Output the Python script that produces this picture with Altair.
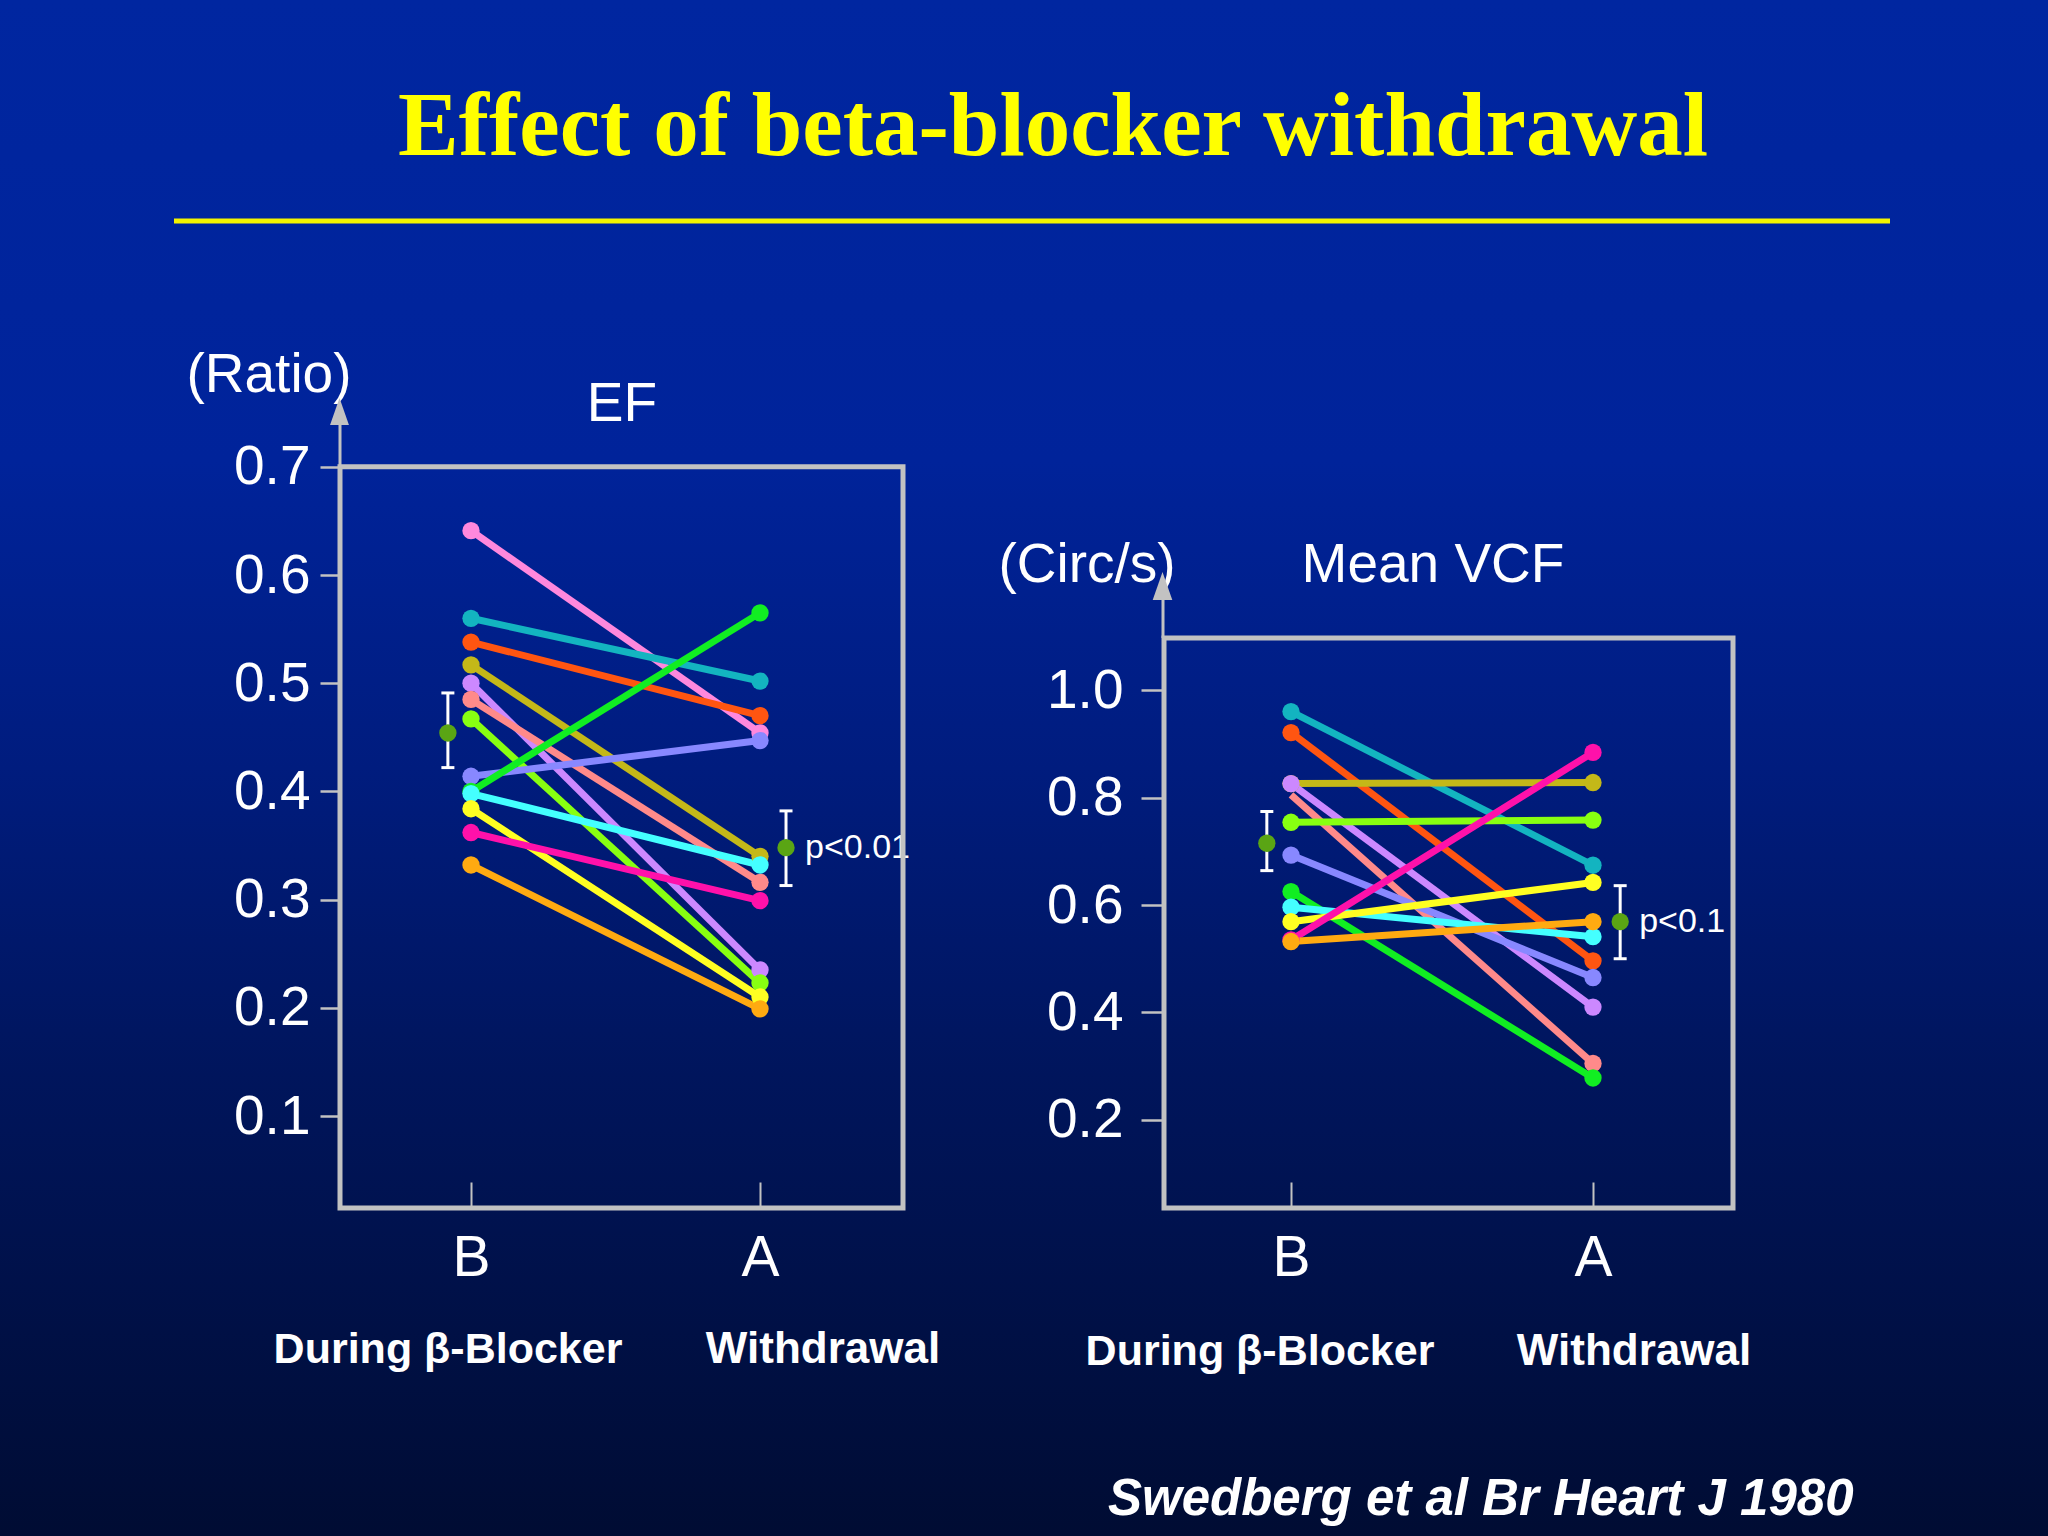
import altair as alt
import pandas as pd

W, H = 2048, 1536

# ---------------- data ----------------
phase_values = [1, 2]
phase_labels = ["B", "A"]

ef_subjects = ["pink", "teal", "orangered", "olive", "violet", "salmon", "lime",
               "periwinkle", "green", "cyan", "yellow", "magenta", "orange"]
ef_before = [0.641, 0.560, 0.538, 0.517, 0.500, 0.485, 0.467, 0.414, 0.400, 0.398, 0.384, 0.362, 0.332]
ef_after = [0.454, 0.502, 0.470, 0.340, 0.235, 0.316, 0.223, 0.447, 0.565, 0.332, 0.210, 0.299, 0.199]
ef_mean = [0.454, 0.348]
ef_lo = [0.422, 0.313]
ef_hi = [0.491, 0.382]
ef_ticks = [0.1, 0.2, 0.3, 0.4, 0.5, 0.6, 0.7]

vcf_subjects = ["teal", "orangered", "olive", "violet", "salmon", "lime",
                "periwinkle", "green", "cyan", "yellow", "magenta", "orange"]
vcf_before = [0.960, 0.921, 0.826, 0.826, 0.805, 0.754, 0.693, 0.625, 0.596, 0.569, 0.535, 0.532]
vcf_after = [0.674, 0.496, 0.828, 0.410, 0.305, 0.758, 0.465, 0.278, 0.541, 0.642, 0.884, 0.569]
vcf_no_dot_before = ["salmon"]
vcf_mean = [0.715, 0.569]
vcf_lo = [0.664, 0.500]
vcf_hi = [0.774, 0.636]
vcf_ticks = [0.2, 0.4, 0.6, 0.8, 1.0]

mean_x = [0.92, 2.09]

subject_names = ["pink", "teal", "orangered", "olive", "violet", "salmon", "lime",
                 "periwinkle", "green", "cyan", "yellow", "magenta", "orange"]
subject_colors = ["#ff88dd", "#13b4c0", "#ff5511", "#c4b818", "#cc88ff", "#ff8a8a", "#88ff11",
                  "#8888ff", "#11ee22", "#44ffff", "#ffff22", "#ff11aa", "#ffaa11"]

GRAY = "#c2c2c2"
MEAN_COLOR = "#5aa514"
FONT = "Liberation Sans"
TICK_TOP = 1182
DOT = 300


def long_df(subjects, before, after):
    rows = []
    for s, b, a in zip(subjects, before, after):
        rows.append({"subject": s, "phase": phase_values[0], "value": b})
        rows.append({"subject": s, "phase": phase_values[1], "value": a})
    return pd.DataFrame(rows)


color_enc = alt.Color("subject:N",
                      scale=alt.Scale(domain=subject_names, range=subject_colors),
                      legend=None)

one_row = pd.DataFrame({"k": [0]})


def panel(df, dots_df, means, lo, hi, p_text, x_dom, x_rng, y_dom, y_rng,
          y_ticks, y_axis_x, y_tick_size, y_label_pad):
    xs = alt.Scale(domain=x_dom, range=x_rng, nice=False, zero=False)
    ys = alt.Scale(domain=y_dom, range=y_rng, nice=False, zero=False)
    label_expr = (f"datum.value == {phase_values[0]} ? '{phase_labels[0]}' : "
                  f"'{phase_labels[1]}'")
    x_axis = alt.Axis(orient="bottom", offset=TICK_TOP - H, values=phase_values,
                      labelExpr=label_expr, tickSize=26, tickColor=GRAY, tickWidth=2,
                      domain=False, grid=False, labelFont=FONT, labelFontSize=57,
                      labelColor="white", labelPadding=22, title=None,
                      labelFlush=False, labelOverlap=False, zindex=2)
    y_axis = alt.Axis(orient="left", offset=-y_axis_x, values=y_ticks, format=".1f",
                      tickSize=y_tick_size, tickColor=GRAY, tickWidth=2.5,
                      domain=False, grid=False, labelFont=FONT, labelFontSize=55,
                      labelColor="white", labelPadding=y_label_pad, title=None,
                      labelFlush=False, labelOverlap=False, labelBaseline="middle",
                      zindex=2)

    mdf = pd.DataFrame({"x": mean_x, "mean": means, "lo": lo, "hi": hi})

    def X(f):
        return alt.X(f, type="quantitative", scale=xs, axis=x_axis)

    def Y(f):
        return alt.Y(f, type="quantitative", scale=ys, axis=y_axis)

    lines = alt.Chart(df).mark_line(strokeWidth=7).encode(
        x=X("phase"), y=Y("value"), color=color_enc, detail="subject:N")
    ptxt = alt.Chart(mdf.iloc[[1]]).mark_text(
        text=p_text, align="left", baseline="middle", dx=19, font=FONT,
        fontSize=34, color="white").encode(x=X("x"), y=Y("mean"))
    dots = alt.Chart(dots_df).mark_circle(size=DOT, opacity=1).encode(
        x=X("phase"), y=Y("value"), color=color_enc)
    bars = alt.Chart(mdf).mark_rule(color="white", strokeWidth=3).encode(
        x=X("x"), y=Y("lo"), y2="hi:Q")
    cap_lo = alt.Chart(mdf).mark_tick(orient="horizontal", size=13, thickness=3,
                                      color="white", opacity=1).encode(x=X("x"), y=Y("lo"))
    cap_hi = alt.Chart(mdf).mark_tick(orient="horizontal", size=13, thickness=3,
                                      color="white", opacity=1).encode(x=X("x"), y=Y("hi"))
    mdot = alt.Chart(mdf).mark_circle(size=DOT, color=MEAN_COLOR, opacity=1).encode(
        x=X("x"), y=Y("mean"))
    box = alt.Chart(one_row).mark_rect(filled=False, color=GRAY, stroke=GRAY,
                                       strokeWidth=5).encode(
        x=alt.XDatum(x_dom[0], type="quantitative", scale=xs, axis=x_axis),
        x2=alt.X2Datum(x_dom[1]),
        y=alt.YDatum(y_dom[0], type="quantitative", scale=ys, axis=y_axis),
        y2=alt.Y2Datum(y_dom[1]))
    return alt.layer(lines, ptxt, dots, bars, cap_lo, cap_hi, mdot, box)


ef_df = long_df(ef_subjects, ef_before, ef_after)
vcf_df = long_df(vcf_subjects, vcf_before, vcf_after)
vcf_dots = vcf_df[~((vcf_df["subject"].isin(vcf_no_dot_before)) &
                    (vcf_df["phase"] == phase_values[0]))]

left = panel(ef_df, ef_df, ef_mean, ef_lo, ef_hi, "p<0.01",
             [0.5467, 2.4948], [340, 903], [0.015, 0.7], [1208, 466.8],
             ef_ticks, 340, 20, 10)
right = panel(vcf_df, vcf_dots, vcf_mean, vcf_lo, vcf_hi, "p<0.1",
              [0.5795, 2.4636], [1164, 1733], [0.036, 1.097], [1208, 638],
              vcf_ticks, 1163, 22, 18)

# ---------------- decorations ----------------
bg = alt.Chart(one_row).mark_rect(
    fill={"gradient": "linear", "x1": 0, "y1": 0, "x2": 0, "y2": 1,
          "stops": [{"offset": 0, "color": "#0026a0"},
                    {"offset": 0.3, "color": "#00239a"},
                    {"offset": 0.5, "color": "#001c7e"},
                    {"offset": 0.7, "color": "#00155c"},
                    {"offset": 1, "color": "#000c33"}]}
).encode(x=alt.value(0), x2=alt.value(W), y=alt.value(0), y2=alt.value(H))


def txt(s, x, y, size, bold=False, italic=False, color="white", font=FONT, align="center"):
    kw = dict(text=s, align=align, baseline="alphabetic", font=font, fontSize=size,
              color=color)
    if bold:
        kw["fontWeight"] = "bold"
    if italic:
        kw["fontStyle"] = "italic"
    return alt.Chart(one_row).mark_text(**kw).encode(x=alt.value(x), y=alt.value(y))


title = txt("Effect of beta-blocker withdrawal", 1053, 155, 91, bold=True,
            color="#ffff00", font="Liberation Serif")
underline = alt.Chart(one_row).mark_rule(color="#f4f400", strokeWidth=5).encode(
    x=alt.value(174), x2=alt.value(1890), y=alt.value(221))

decor = [
    title, underline,
    txt("(Ratio)", 269, 392, 55),
    txt("EF", 622, 421, 55),
    txt("(Circ/s)", 1087, 582, 55),
    txt("Mean VCF", 1433, 582, 55),
    txt("During β-Blocker", 448, 1363, 43, bold=True),
    txt("Withdrawal", 823, 1363, 44, bold=True),
    txt("During β-Blocker", 1260, 1365, 43, bold=True),
    txt("Withdrawal", 1634, 1365, 44, bold=True),
    txt("Swedberg et al Br Heart J 1980", 1108, 1515, 51, bold=True, italic=True,
        align="left"),
]

arrow_shape = "M0,-1L0.7,1L-0.7,1Z"
arrows = [
    alt.Chart(one_row).mark_rule(color=GRAY, strokeWidth=3).encode(
        x=alt.value(340), y=alt.value(420), y2=alt.value(466)),
    alt.Chart(one_row).mark_point(shape=arrow_shape, size=729, filled=True,
                                  color=GRAY, opacity=1).encode(
        x=alt.value(339.5), y=alt.value(411.5)),
    alt.Chart(one_row).mark_rule(color=GRAY, strokeWidth=3).encode(
        x=alt.value(1163), y=alt.value(595), y2=alt.value(638)),
    alt.Chart(one_row).mark_point(shape=arrow_shape, size=784, filled=True,
                                  color=GRAY, opacity=1).encode(
        x=alt.value(1162.5), y=alt.value(586)),
]

chart = alt.layer(bg, *decor, *arrows, left, right).resolve_scale(
    x="independent", y="independent"
).properties(
    width=W, height=H, padding=0, autosize="none", background="#000c33"
).configure_view(stroke=None)

chart.save("out.html", embed_options={"renderer": "svg", "actions": False})
